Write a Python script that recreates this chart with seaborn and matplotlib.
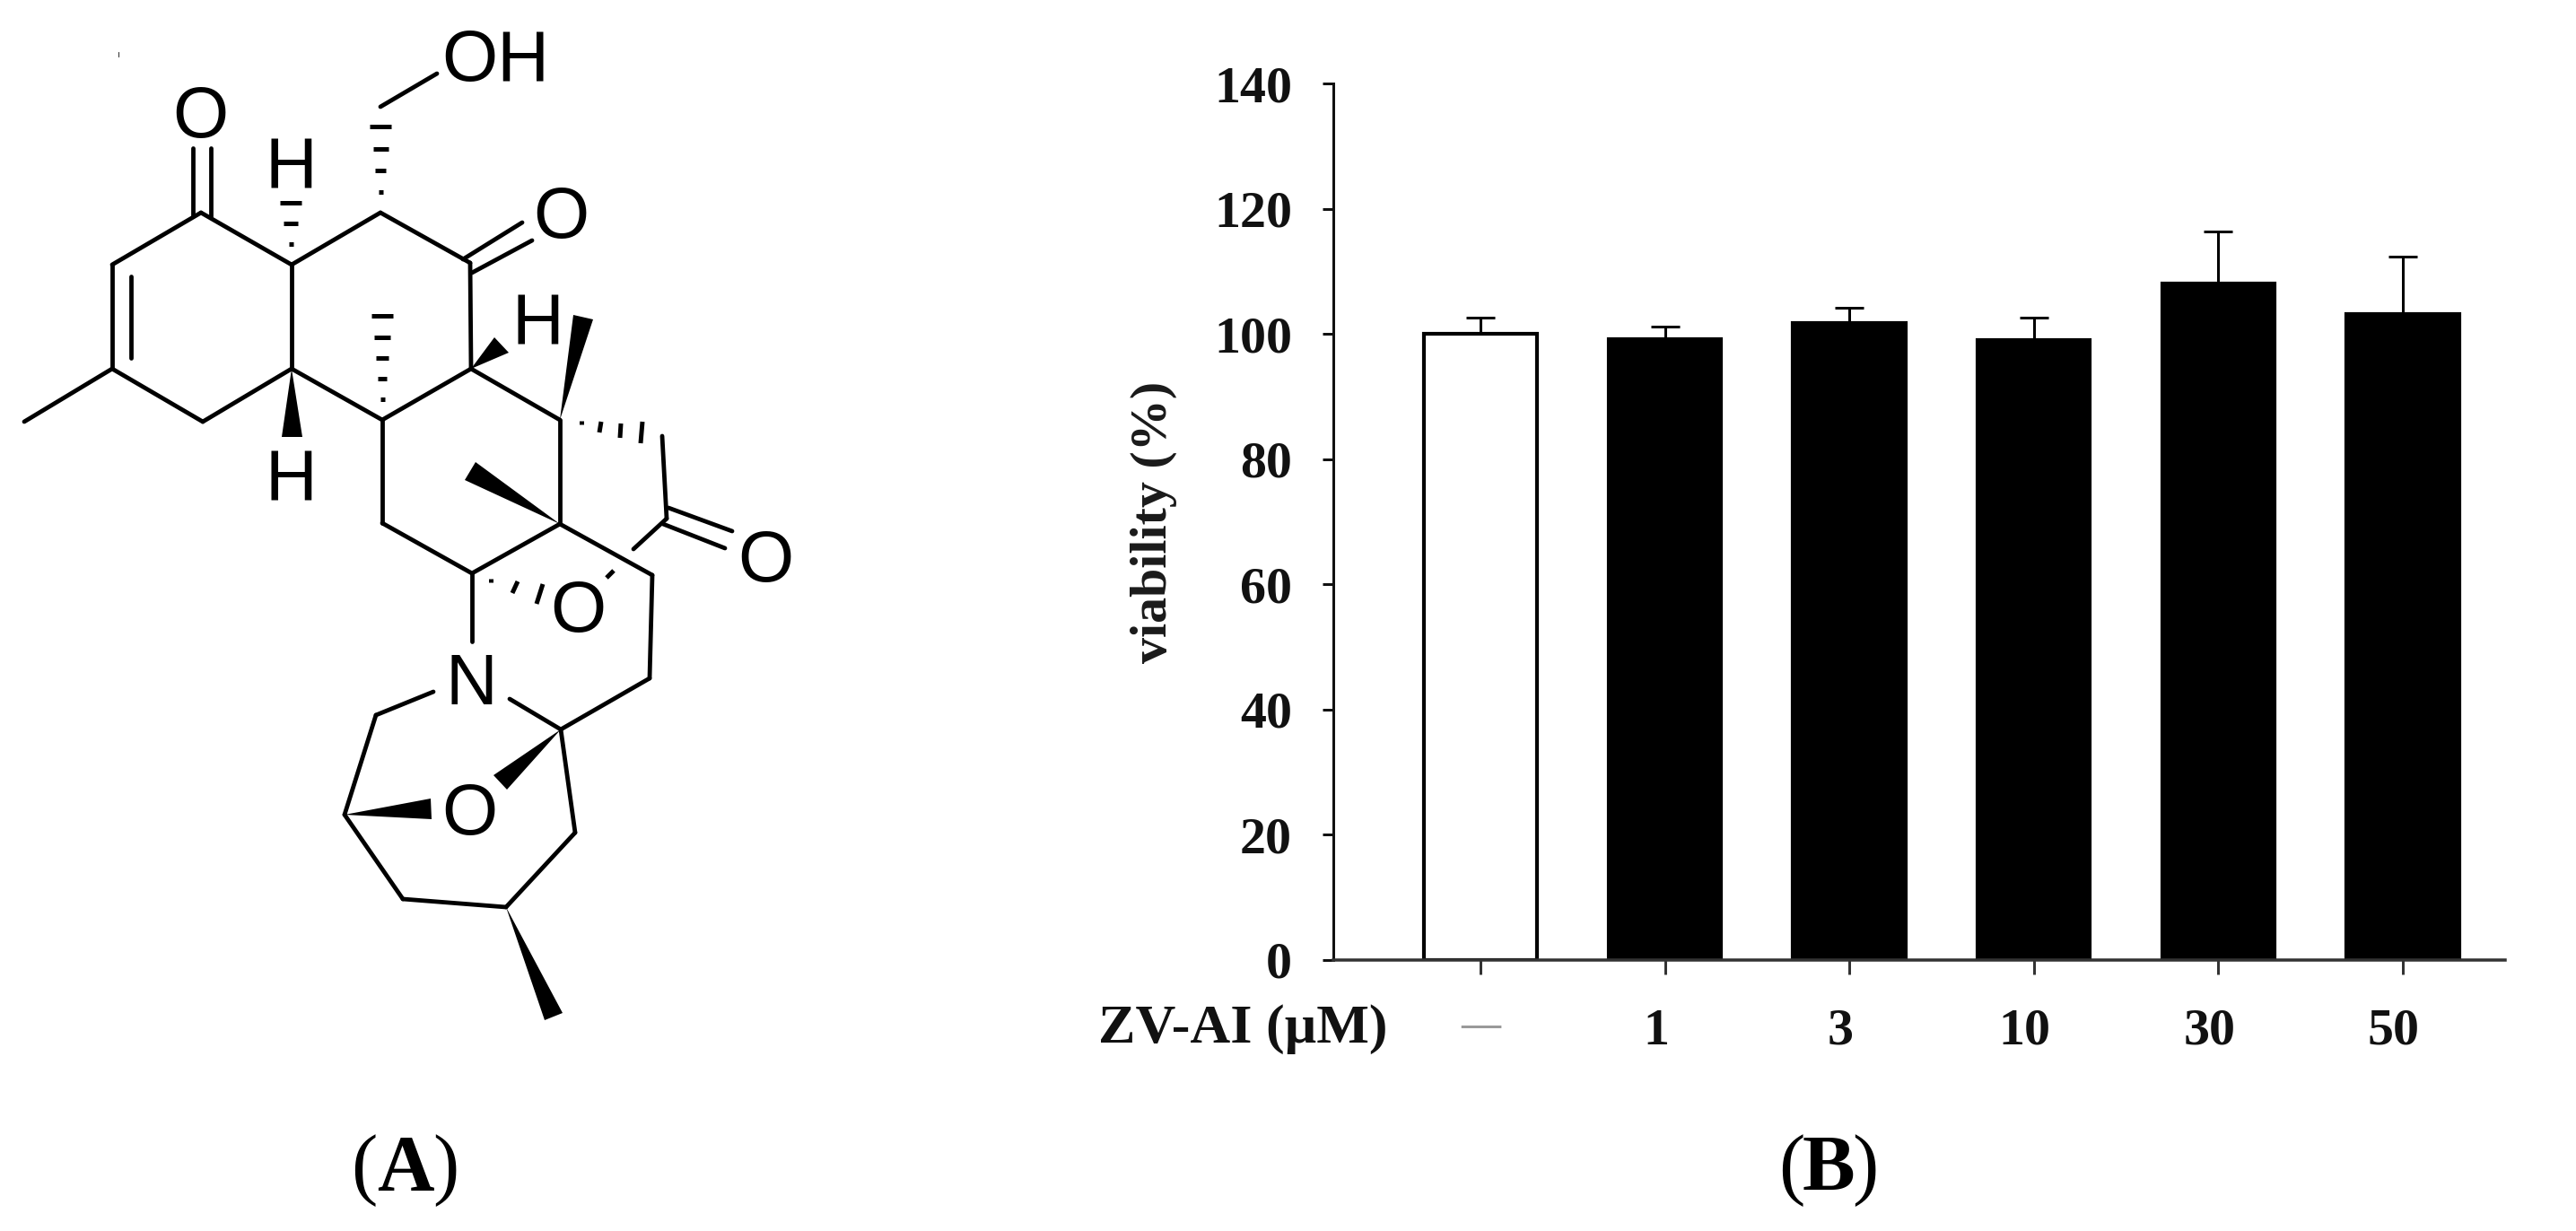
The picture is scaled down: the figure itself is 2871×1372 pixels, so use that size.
import numpy as np
import pandas as pd
import seaborn as sns
import matplotlib.pyplot as plt
from matplotlib.transforms import ScaledTranslation

# Bar chart values (panel B)
doses = ['—', '1', '3', '10', '30', '50']
viability = [100.0, 99.2, 101.8, 99.0, 108.0, 103.2]
errors = [2.6, 1.9, 2.4, 3.6, 8.4, 9.2]
bar_colors = ['white', 'black', 'black', 'black', 'black', 'black']
y_ticks = [0, 20, 40, 60, 80, 100, 120, 140]

# Structure drawing (panel A), in image pixels
bonds = [
    ((27, 470), (125, 411)), ((125, 411), (125, 295)), ((125, 295), (224, 237)),
    ((224, 237), (325, 295)), ((325, 295), (325, 411)), ((325, 411), (226, 470)),
    ((226, 470), (125, 411)), ((146, 308), (146, 399)),
    ((325, 295), (424, 237)), ((424, 237), (524, 293)), ((524, 293), (525, 411)),
    ((525, 411), (426, 468)), ((426, 468), (325, 411)),
    ((525, 411), (624, 468)), ((624, 468), (624, 584)),
    ((426, 468), (426, 583)), ((426, 583), (526, 639)), ((526, 639), (624, 584)),
    ((424, 119), (487, 82)),
    ((214.5, 165), (214.5, 241)), ((234.5, 165), (234.5, 241)),
    ((516, 289), (582, 248)), ((526, 304), (593, 268)),
    ((738, 486), (743, 578)), ((743, 578), (706, 612)),
    ((745, 566), (816, 592)), ((739, 584), (808, 611)),
    ((624, 584), (727, 641)), ((727, 641), (724, 756)), ((724, 756), (625, 813)),
    ((526, 639), (526, 715)), ((568, 779), (625, 813)),
    ((483, 771), (419, 797)), ((419, 797), (384, 908)),
    ((384, 908), (449, 1002)), ((449, 1002), (564, 1011)),
    ((564, 1011), (641, 928)), ((641, 928), (625, 813)),
]
hash_marks = [
    ((412, 141), (436, 141)), ((415.5, 166), (432.5, 166)), ((418, 190), (430, 190)), ((421.5, 214), (426.5, 214)),
    ((312, 226), (336, 226)), ((316, 249), (332, 249)), ((321.5, 272), (326.5, 272)),
    ((414, 352), (438, 352)), ((417, 376), (435, 376)), ((419, 399), (433, 399)),
    ((421, 422), (431, 422)), ((423.5, 445), (428.5, 445)),
    ((648, 469), (648, 473)), ((670, 470), (668, 482)), ((692, 472), (691, 488)), ((716, 470), (714, 494)),
    ((547, 645), (547, 649)), ((577, 648), (571, 661)), ((605, 651), (598, 673)),
    ((684, 636), (676, 644)),
]
wedges = [
    [(325, 411), (314, 487), (337, 487)],
    [(525, 411), (551, 376), (567, 393)],
    [(624, 468), (639, 351), (661, 356)],
    [(624, 584), (530, 515), (518, 535)],
    [(384, 908), (480, 890), (481, 913)],
    [(625, 813), (550, 864), (565, 880)],
    [(564, 1011), (627, 1129), (607, 1137)],
]
atoms = [
    ('OH', 552, 61), ('O', 223, 124), ('H', 324, 181), ('O', 625, 236),
    ('H', 599, 355), ('H', 324, 529), ('O', 853, 619), ('O', 644, 675),
    ('N', 525, 756), ('O', 523, 901),
]

W, H = 2871, 1372
PX = 0.72  # points per pixel at dpi 100
SERIF = ['Liberation Serif', 'DejaVu Serif']

sns.set_theme(style="white")
plt.rcParams['font.family'] = SERIF

fig = plt.figure(figsize=(W / 100, H / 100), dpi=100, facecolor='white')

# Panel A: structure, whole-figure axes in pixels
mol = fig.add_axes([0, 0, 1, 1])
mol.set_xlim(0, W)
mol.set_ylim(H, 0)
mol.axis('off')
for p, q in bonds:
    mol.plot([p[0], q[0]], [p[1], q[1]], color='black', lw=4.8 * PX, solid_capstyle='round')
for p, q in hash_marks:
    mol.plot([p[0], q[0]], [p[1], q[1]], color='black', lw=5 * PX, solid_capstyle='butt')
for tri in wedges:
    mol.fill([t[0] for t in tri], [t[1] for t in tri], color='black', lw=0)
for label, x, y in atoms:
    mol.text(x, y, label, family='Liberation Sans', fontsize=80 * PX, color='black',
             ha='center', va='center_baseline')
mol.plot([132, 132], [58, 63], color='#444444', lw=1.2 * PX)

# Panel captions
for label, centers in [('A', (406, 451.5, 497)), ('B', (1997, 2038, 2079))]:
    mol.text(centers[0], 1326, '(', fontsize=88 * PX, ha='center', va='baseline', color='black')
    mol.text(centers[1], 1326, label, fontsize=88 * PX, weight='bold', ha='center', va='baseline', color='black')
    mol.text(centers[2], 1326, ')', fontsize=88 * PX, ha='center', va='baseline', color='black')

# Panel B: bar chart
ax = fig.add_axes([1486 / W, 1 - 1070 / H, (2792 - 1486) / W, (1070 - 93) / H])
ax.patch.set_alpha(0)
df = pd.DataFrame({'dose': doses, 'viability': viability})
sns.barplot(data=df, x='dose', y='viability', hue='dose', palette=bar_colors, legend=False,
            order=doses, width=0.61, edgecolor='black', linewidth=3.0, errorbar=None, ax=ax, saturation=1)
ax.errorbar(np.arange(len(doses)), viability, yerr=[np.zeros(len(errors)), errors], fmt='none',
            ecolor='black', elinewidth=3 * PX, capsize=16 * PX, capthick=3 * PX, zorder=1)

ax.set_xlim(-0.798, 5.555)
ax.set_ylim(0, 140)
ax.set_yticks(y_ticks)
ax.set_xlabel('')
ax.set_ylabel('viability (%)', fontsize=58 * PX, weight='bold', color='#1a1a1a')
ax.yaxis.set_label_coords(-0.133, 0.5)

sns.despine(ax=ax)
ax.spines['left'].set_linewidth(3 * PX)
ax.spines['left'].set_color('#111111')
ax.spines['bottom'].set_linewidth(3.5 * PX)
ax.spines['bottom'].set_color('#333333')
ax.tick_params(axis='y', length=12 * PX, width=3 * PX, color='#111111', left=True, pad=34 * PX,
               labelsize=58 * PX, labelcolor='#111111')
ax.tick_params(axis='x', length=16 * PX, width=3 * PX, color='#333333', bottom=True, pad=38 * PX,
               labelsize=58 * PX, labelcolor='#111111')
for t in ax.get_yticklabels():
    t.set_weight('bold')
shift = ScaledTranslation(-10 / 100, 0, fig.dpi_scale_trans)
for i, t in enumerate(ax.get_xticklabels()):
    t.set_weight('bold')
    if i == 0:
        t.set_color('#999999')
        t.set_fontsize(44 * PX)
    else:
        t.set_transform(t.get_transform() + shift)

mol.text(1385, 1147, 'ZV-AI (µM)', fontsize=62 * PX, weight='bold', ha='center', va='center',
         color='#111111')

fig.savefig('out.png', dpi=100, facecolor='white')
